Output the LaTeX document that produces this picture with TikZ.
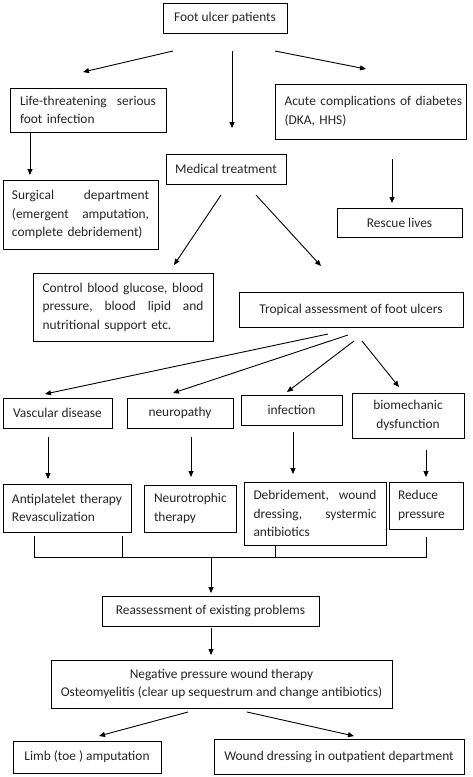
\documentclass[tikz,border=0pt]{standalone}
\usepackage{fontspec}
\setmainfont{Carlito}
\usetikzlibrary{arrows.meta}
\newcommand{\fsz}{\fontsize{13.4}{18.5}\selectfont\hyphenpenalty=10000\exhyphenpenalty=10000}
\newcommand{\jl}[2]{\leavevmode\hbox to #1pt{#2}}
\newcommand{\fl}[2]{\leavevmode\hbox to #1pt{#2\hss}}
\begin{document}
\begin{tikzpicture}[x=1pt,y=-1pt,
  bx/.style={draw, line width=0.9pt, inner xsep=0pt, inner ysep=0pt, font=\fsz, text=black!85, align=center},
  arr/.style={line width=0.9pt, -{Triangle[length=6pt,width=5pt]}},
  ln/.style={line width=0.9pt}]
\useasboundingbox[fill=white] (0,0) rectangle (472,777);
% boxes
\node[bx, minimum width=124, minimum height=30] (top) at (225,18) {Foot ulcer patients};
\node[bx, minimum width=156, minimum height=44, text width=136, align=left] (life) at (88,110) {\jl{136}{Life-threatening\hfill serious}\\foot infection};
\node[bx, minimum width=191, minimum height=55, text width=172, align=left] (acute) at (370.5,111.5) {\fl{172}{Acute complications of diabetes}\\(DKA, HHS)};
\node[bx, minimum width=120, minimum height=30] (med) at (226,169) {Medical treatment};
\node[bx, minimum width=155, minimum height=69, text width=137, align=left] (surg) at (80.5,214.5) {\jl{137}{Surgical\hfill department}\\\jl{137}{(emergent\hfill amputation,}\\complete debridement)};
\node[bx, minimum width=125, minimum height=29] (rescue) at (399.5,222.5) {Rescue lives};
\node[bx, minimum width=180, minimum height=68, text width=161, align=left] (ctrl) at (123,307) {\jl{161}{Control\hfill blood\hfill glucose,\hfill blood}\\\jl{161}{pressure,\hfill blood\hfill lipid\hfill and}\\nutritional support etc.};
\node[bx, minimum width=224, minimum height=35] (trop) at (351,309.5) {Tropical assessment of foot ulcers};
\node[bx, minimum width=109, minimum height=30] (vasc) at (57.5,413) {Vascular disease};
\node[bx, minimum width=106, minimum height=30] (neuro) at (180,413) {neuropathy};
\node[bx, minimum width=101, minimum height=30] (inf) at (291.5,410) {infection};
\node[bx, minimum width=112, minimum height=45] (bio) at (408,415.5) {biomechanic\\dysfunction};
\node[bx, minimum width=128, minimum height=48, text width=110, align=left] (anti) at (67,508) {\jl{110}{Antiplatelet\hfill therapy}\\Revasculization};
\node[bx, minimum width=92, minimum height=47, text width=72, align=left] (ntro) at (190,508.5) {Neurotrophic\\therapy};
\node[bx, minimum width=142, minimum height=63, text width=123, align=left] (debr) at (315,513.5) {\jl{123}{Debridement,\hfill wound}\\\jl{123}{dressing,\hfill systermic}\\antibiotics};
\node[bx, minimum width=74, minimum height=47, text width=56, align=left] (red) at (426,505.5) {Reduce\\pressure};
\node[bx, minimum width=217, minimum height=30] (reas) at (210.5,611) {Reassessment of existing problems};
\node[bx, minimum width=341, minimum height=48] (neg) at (221.5,684) {Negative pressure wound therapy\\Osteomyelitis (clear up sequestrum and change antibiotics)};
\node[bx, minimum width=148, minimum height=32] (limb) at (87,757) {Limb (toe ) amputation};
\node[bx, minimum width=250, minimum height=35] (wound) at (339,756.5) {Wound dressing in outpatient department};
% connector end points
\coordinate (a1s) at (173,51); \coordinate (a1e) at (83,72);
\coordinate (a2s) at (232,51); \coordinate (a2e) at (232,128);
\coordinate (a3s) at (275,51); \coordinate (a3e) at (366,69);
\coordinate (a4e) at (30,175);
\coordinate (a5s) at (392,159); \coordinate (a5e) at (392,203);
\coordinate (a6s) at (221,195); \coordinate (a6e) at (174,265);
\coordinate (a7s) at (256,195); \coordinate (a7e) at (321,266);
\coordinate (a8s) at (328,334); \coordinate (a8e) at (45,394);
\coordinate (a9s) at (348,335); \coordinate (a9e) at (173,393);
\coordinate (a10s) at (354,341); \coordinate (a10e) at (287,392);
\coordinate (a11s) at (362,341); \coordinate (a11e) at (399,387);
\coordinate (a12s) at (48,437); \coordinate (a12e) at (48,479);
\coordinate (a13s) at (191,437); \coordinate (a13e) at (191,477);
\coordinate (a14s) at (293,432); \coordinate (a14e) at (293,474);
\coordinate (a15s) at (426,450); \coordinate (a15e) at (426,477);
\coordinate (b1) at (34,536); \coordinate (b2) at (122,536); \coordinate (b3) at (275,545); \coordinate (b4) at (426,537);
\coordinate (bj) at (211,557);
\coordinate (a16e) at (211,593);
\coordinate (a17s) at (211,628); \coordinate (a17e) at (211,655);
\coordinate (a18s) at (188,712); \coordinate (a18e) at (99,736);
\coordinate (a19s) at (247,712); \coordinate (a19e) at (354,736);
% connectors
\draw[arr] (a1s) -- (a1e);
\draw[arr] (a2s) -- (a2e);
\draw[arr] (a3s) -- (a3e);
\draw[arr] (life.south -| a4e) -- (a4e);
\draw[arr] (a5s) -- (a5e);
\draw[arr] (a6s) -- (a6e);
\draw[arr] (a7s) -- (a7e);
\draw[arr] (a8s) -- (a8e);
\draw[arr] (a9s) -- (a9e);
\draw[arr] (a10s) -- (a10e);
\draw[arr] (a11s) -- (a11e);
\draw[arr] (a12s) -- (a12e);
\draw[arr] (a13s) -- (a13e);
\draw[arr] (a14s) -- (a14e);
\draw[arr] (a15s) -- (a15e);
\draw[ln] (b1) -- (b1 |- bj) -- (b4 |- bj) -- (b4);
\draw[ln] (b2) -- (b2 |- bj);
\draw[ln] (b3) -- (b3 |- bj);
\draw[arr] (bj) -- (a16e);
\draw[arr] (a17s) -- (a17e);
\draw[arr] (a18s) -- (a18e);
\draw[arr] (a19s) -- (a19e);
\end{tikzpicture}
\end{document}
